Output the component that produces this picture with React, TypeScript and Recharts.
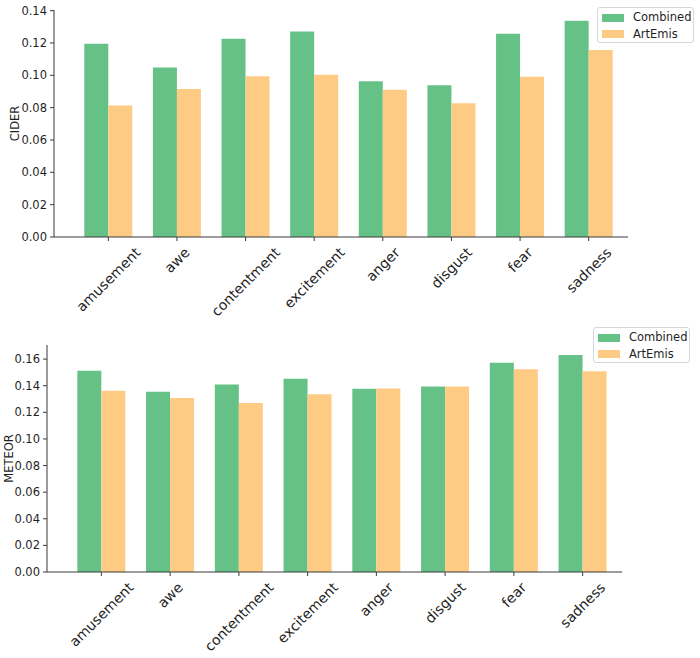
import React from 'react';
import { BarChart, Bar, XAxis, YAxis, Legend } from 'recharts';

const categories = ['amusement', 'awe', 'contentment', 'excitement', 'anger', 'disgust', 'fear', 'sadness'];
const seriesNames = ['Combined', 'ArtEmis'];
const ciderCombined = [0.1195, 0.1049, 0.1226, 0.1271, 0.0964, 0.0938, 0.1257, 0.1337];
const ciderArtEmis = [0.0814, 0.0915, 0.0995, 0.1004, 0.0911, 0.0827, 0.0991, 0.1156];
const meteorCombined = [0.1512, 0.1355, 0.1410, 0.1453, 0.1377, 0.1395, 0.1573, 0.1630];
const meteorArtEmis = [0.1362, 0.1307, 0.1270, 0.1335, 0.1380, 0.1395, 0.1523, 0.1508];
const ciderTicks = [0, 0.02, 0.04, 0.06, 0.08, 0.1, 0.12, 0.14];
const meteorTicks = [0, 0.02, 0.04, 0.06, 0.08, 0.1, 0.12, 0.14, 0.16];

const GREEN = '#66c186';
const ORANGE = '#fecb85';
const FONT = '"DejaVu Sans", sans-serif';
const TEXT = '#1f1f1f';
const AXIS = '#3a3a3a';

const ciderData = categories.map((c, i) => ({ name: c, combined: ciderCombined[i], artemis: ciderArtEmis[i] }));
const meteorData = categories.map((c, i) => ({ name: c, combined: meteorCombined[i], artemis: meteorArtEmis[i] }));

let ctx: CanvasRenderingContext2D | null = null;
function measure(text: string, size: number): number {
  if (!ctx) {
    const cv = document.createElement('canvas');
    ctx = cv.getContext('2d');
  }
  if (ctx) {
    ctx.font = `${size}px "DejaVu Sans"`;
    return ctx.measureText(text).width;
  }
  return text.length * size * 0.6;
}

const XTick = (props: any) => {
  const { x, y, payload } = props;
  const size = 14;
  const w = measure(String(payload.value), size);
  const h = size * 1.0;
  const bboxH = (w + h) * Math.SQRT1_2;
  const cy = y + 2 + bboxH / 2;
  return (
    <g transform={`translate(${x},${cy}) rotate(-45)`}>
      <text x={0} y={0} textAnchor="middle" dominantBaseline="central" fontSize={size} fontFamily={FONT} fill={TEXT}>
        {payload.value}
      </text>
    </g>
  );
};

const LegendBox = () => (
  <div
    style={{
      width: 97,
      height: 36,
      boxSizing: 'border-box',
      border: '1px solid #d6d6d6',
      borderRadius: 3,
      background: 'rgba(255,255,255,0.8)',
      position: 'relative',
      fontFamily: FONT,
      fontSize: 11.5,
      color: TEXT,
    }}
  >
    {seriesNames.map((n, i) => (
      <div key={n} style={{ position: 'absolute', left: 4, top: 2 + i * 16.5, height: 15, display: 'flex', alignItems: 'center' }}>
        <div style={{ width: 22, height: 8, background: i === 0 ? GREEN : ORANGE, marginRight: 9 }} />
        <span style={{ lineHeight: '15px' }}>{n}</span>
      </div>
    ))}
  </div>
);

const YLabel = (text: string, x: number) => (props: any) => {
  const vb = props.viewBox;
  const cy = vb.y + vb.height / 2;
  return (
    <text x={x} y={cy} transform={`rotate(-90, ${x}, ${cy})`} textAnchor="middle" dominantBaseline="central" fontSize={11.5} fontFamily={FONT} fill={TEXT}>
      {text}
    </text>
  );
};

function Panel(props: {
  data: any[];
  height: number;
  top: number;
  yWidth: number;
  right: number;
  xHeight: number;
  domainMax: number;
  ticks: number[];
  label: string;
  labelX: number;
  legendLeft: number;
  legendTop: number;
}) {
  const p = props;
  return (
    <div style={{ position: 'absolute', left: 0, top: p.top, width: 700, height: p.height }}>
      <BarChart
        width={700}
        height={p.height}
        data={p.data}
        margin={{ top: p.height - p.xHeight - 227, right: p.right, bottom: 0, left: 0 }}
        barCategoryGap="15%"
        barGap={0}
        style={{ overflow: 'visible' }}
      >
        <XAxis
          dataKey="name"
          type="category"
          height={p.xHeight}
          padding={{ left: 20, right: 5 }}
          tick={<XTick />}
          tickSize={4}
          tickLine={{ stroke: AXIS }}
          axisLine={{ stroke: AXIS }}
          interval={0}
        />
        <YAxis
          width={p.yWidth}
          domain={[0, p.domainMax]}
          ticks={p.ticks}
          allowDataOverflow
          tickFormatter={(v: number) => v.toFixed(2)}
          tick={{ fontSize: 11.5, fontFamily: FONT, fill: TEXT }}
          tickSize={4}
          tickMargin={3}
          tickLine={{ stroke: AXIS }}
          axisLine={{ stroke: AXIS }}
          label={{ content: YLabel(p.label, p.labelX) }}
        />
        <Legend
          layout="horizontal"
          verticalAlign="middle"
          align="center"
          content={() => <LegendBox />}
          wrapperStyle={{ left: p.legendLeft, top: p.legendTop, width: 'auto', height: 'auto' }}
        />
        <Bar dataKey="combined" name={seriesNames[0]} fill={GREEN} isAnimationActive={false} />
        <Bar dataKey="artemis" name={seriesNames[1]} fill={ORANGE} isAnimationActive={false} />
      </BarChart>
    </div>
  );
}

export default function App() {
  return (
    <div style={{ position: 'absolute', left: 0, top: 0, width: 700, height: 658, background: '#fff' }}>
      <Panel
        data={ciderData}
        height={320}
        top={0}
        yWidth={54}
        right={72}
        xHeight={83}
        domainMax={0.1404}
        ticks={ciderTicks}
        label="CIDER"
        labelX={15}
        legendLeft={597}
        legendTop={7}
      />
      <Panel
        data={meteorData}
        height={338}
        top={320}
        yWidth={47}
        right={78}
        xHeight={86}
        domainMax={0.1706}
        ticks={meteorTicks}
        label="METEOR"
        labelX={9}
        legendLeft={593}
        legendTop={7}
      />
    </div>
  );
}
